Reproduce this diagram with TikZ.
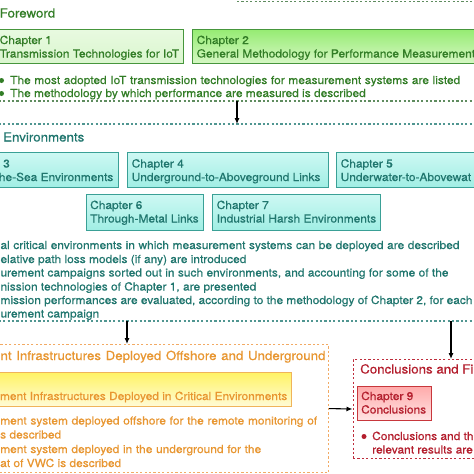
\documentclass[tikz,border=0pt]{standalone}
\usepackage{fontspec}
\setmainfont{TeX Gyre Heros}[FakeStretch=1.065, FakeBold=0.5]
\usetikzlibrary{arrows.meta}
\definecolor{gtext}{RGB}{50,125,38}
\definecolor{gline}{RGB}{70,150,60}
\definecolor{gsep}{RGB}{95,140,95}
\definecolor{ttext}{RGB}{32,118,110}
\definecolor{tline}{RGB}{58,160,150}
\definecolor{tsep}{RGB}{80,150,145}
\definecolor{otext}{RGB}{232,150,48}
\definecolor{oline}{RGB}{240,180,90}
\definecolor{osep}{RGB}{242,170,100}
\definecolor{rtext}{RGB}{180,30,45}
\definecolor{rline}{RGB}{200,55,60}
\definecolor{rsep}{RGB}{190,45,60}
\newcommand{\jl}[2]{\makebox[#1][s]{#2}}
\begin{document}
\begin{tikzpicture}[x=1pt,y=-1pt,
  txt/.style={inner sep=0pt, anchor=base west, font=\fontsize{11.2}{13}\selectfont},
  txtr/.style={inner sep=0pt, anchor=base east, font=\fontsize{11.2}{13}\selectfont},
  ttl/.style={inner sep=0pt, anchor=base west, font=\fontsize{12.5}{15}\selectfont},
  ttlr/.style={inner sep=0pt, anchor=base east, font=\fontsize{12.5}{15}\selectfont},
  chbox/.style={draw, line width=1.1pt, anchor=north west, inner sep=0pt},
  gbox/.style={chbox, draw=gline},
  tbox/.style={chbox, draw=tline, top color={rgb,255:red,205;green,248;blue,243}, bottom color={rgb,255:red,160;green,238;blue,228}},
  sepline/.style={line width=1.1pt, dash pattern=on 2.2pt off 2.2pt},
  frame/.style={sepline, draw, anchor=north west, inner sep=0pt},
  arr/.style={-{Latex[length=6pt,width=5pt]}, line width=1.1pt, black},
  bdot/.style={circle, fill, inner sep=0pt, minimum size=5pt}]
\useasboundingbox (0,0) rectangle (474,474);
\clip (0,0) rectangle (474,474);
\fill[white] (0,0) rectangle (474,474);

% ---------- Section 1: Foreword ----------
\coordinate (s1tl) at (237,1.2);
\coordinate (s1tr) at (480,1.2);
\coordinate (s1bl) at (-10,101);
\coordinate (s1br) at (480,101);
\draw[sepline, gsep] (s1tl) -- (s1tr);
\draw[sepline, gsep] (s1bl) -- (s1br);
\node[ttl, text=gtext] (fw) at (-0.5,17.5) {Foreword};
\node[gbox, top color={rgb,255:red,232;green,250;blue,224}, bottom color={rgb,255:red,218;green,246;blue,206}, minimum width=193pt, minimum height=34pt] (c1) at (-10,29) {};
\node[gbox, top color={rgb,255:red,150;green,236;blue,115}, bottom color={rgb,255:red,214;green,247;blue,196}, minimum width=298pt, minimum height=34pt] (c2) at (192,29) {};
\node[txt, text=gtext] (c1a) at (-0.5,44) {Chapter 1};
\node[txt, text=gtext] (c1b) at (-0.5,57.5) {Transmission Technologies for IoT};
\node[txt, text=gtext] (c2a) at (196.5,44) {Chapter 2};
\node[txt, text=gtext] (c2b) at (196.5,57.5) {General Methodology for Performance Measurement};
\node[bdot, fill=gtext] (d1) at (1.5,80.5) {};
\node[bdot, fill=gtext] (d2) at (1.5,93.5) {};
\node[txt, text=gtext] (b1) at (10,84) {\jl{450pt}{The most adopted IoT transmission technologies for measurement systems are listed}};
\node[txt, text=gtext] (b2) at (10,97) {The methodology by which performance are measured is described};

% ---------- Section 2: Environments ----------
\coordinate (s2tl) at (-10,124);
\coordinate (s2tr) at (480,124);
\coordinate (s2bl) at (-10,321);
\coordinate (s2br) at (480,321);
\draw[sepline, tsep] (s2tl) -- (s2tr);
\draw[sepline, tsep] (s2bl) -- (s2br);
\node[ttl, text=ttext] (env) at (3,141.5) {Environments};
\node[tbox, minimum width=128pt, minimum height=35pt] (c3) at (-10,152) {};
\node[tbox, minimum width=200.5pt, minimum height=35pt] (c4) at (127,152) {};
\node[tbox, minimum width=154pt, minimum height=35pt] (c5) at (336,152) {};
\node[tbox, minimum width=117pt, minimum height=36pt] (c6) at (86,194) {};
\node[tbox, minimum width=168pt, minimum height=36pt] (c7) at (212,194) {};
\node[txt, text=ttext] (c3a) at (3,167.5) {3};
\node[txtr, text=ttext] (c3b) at (113.5,181) {he-Sea Environments};
\node[txt, text=ttext] (c4a) at (131.5,167.5) {Chapter 4};
\node[txt, text=ttext] (c4b) at (131.5,181) {Underground-to-Aboveground Links};
\node[txt, text=ttext] (c5a) at (340.5,167.5) {Chapter 5};
\node[txt, text=ttext] (c5b) at (340.5,181) {Underwater-to-Abovewat};
\node[txt, text=ttext] (c6a) at (90,209) {Chapter 6};
\node[txt, text=ttext] (c6b) at (90,222.5) {Through-Metal Links};
\node[txt, text=ttext] (c7a) at (216.5,209) {Chapter 7};
\node[txt, text=ttext] (c7b) at (216.5,222.5) {Industrial Harsh Environments};
\node[txt, text=ttext] (e1) at (0.3,249) {\jl{459pt}{al critical environments in which measurement systems can be deployed are described}};
\node[txt, text=ttext] (e2) at (0.3,263) {elative path loss models (if any) are introduced};
\node[txt, text=ttext] (e3) at (0.3,276.5) {\jl{448pt}{urement campaigns sorted out in such environments, and accounting for some of the}};
\node[txt, text=ttext] (e4) at (0.3,290.5) {nission technologies of Chapter 1, are presented};
\node[txt, text=ttext] (e5) at (0.3,304) {\jl{472pt}{mission performances are evaluated, according to the methodology of Chapter 2, for each}};
\node[txt, text=ttext] (e6) at (0.3,317.5) {urement campaign};

% ---------- Section 3 ----------
\node[frame, draw=osep, minimum width=338pt, minimum height=128pt] (sec3) at (-10,344) {};
\node[ttl, text=otext] (s3t) at (0.3,360) {\jl{325pt}{nt Infrastructures Deployed Offshore and Underground}};
\node[chbox, draw=oline, top color={rgb,255:red,255;green,243;blue,100}, bottom color={rgb,255:red,255;green,251;blue,215}, minimum width=301pt, minimum height=34.5pt] (c8) at (-10,371.5) {};
\node[txtr, text=otext] (c8b) at (287.5,400) {ment Infrastructures Deployed in Critical Environments};
\node[txt, text=otext] (o1) at (0,424.5) {\jl{317pt}{ment system deployed offshore for the remote monitoring of}};
\node[txt, text=otext] (o2) at (0,438.5) {s described};
\node[txt, text=otext] (o3) at (0,453) {\jl{261pt}{ment system deployed in the underground for the}};
\node[txt, text=otext] (o4) at (0,467) {at of VWC is described};

% ---------- Section 4 ----------
\node[frame, draw=rsep, minimum width=137.5pt, minimum height=99pt] (sec4) at (352.5,359) {};
\node[ttl, text=rtext] (s4t) at (360,373.5) {Conclusions and Fi};
\node[chbox, draw=rline, top color={rgb,255:red,255;green,170;blue,170}, bottom color={rgb,255:red,255;green,228;blue,228}, minimum width=74pt, minimum height=34.5pt] (c9) at (357,385.5) {};
\node[txt, text=rtext] (c9a) at (361,400) {Chapter 9};
\node[txt, text=rtext] (c9b) at (361,413.5) {Conclusions};
\node[bdot, fill=rtext] (d9) at (364,436.5) {};
\node[txt, text=rtext] (r1) at (372,440) {Conclusions and th};
\node[txt, text=rtext] (r2) at (372,453.5) {relevant results are};

% ---------- Arrows ----------
\coordinate (xa) at (237,0);
\coordinate (xb) at (127,0);
\coordinate (xc) at (451,0);
\draw[arr] (s1bl -| xa) -- (s2tl -| xa);
\draw[arr] (s2bl -| xb) -- (sec3.north -| xb);
\draw[arr] (s2bl -| xc) -- (sec4.north -| xc);
\draw[arr] (sec3.east) -- (sec4.west);
\end{tikzpicture}
\end{document}
